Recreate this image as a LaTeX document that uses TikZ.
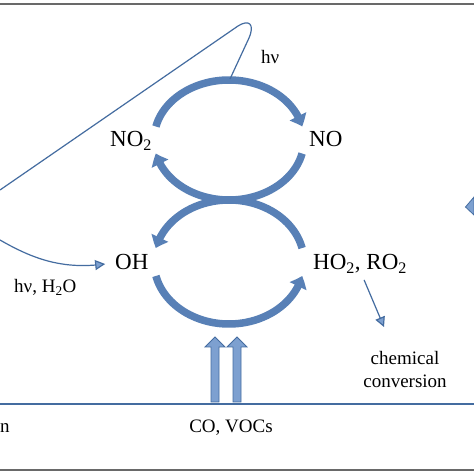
\documentclass[tikz,border=0pt]{standalone}
\usepackage{fontspec}
\setmainfont{Liberation Serif}
\usetikzlibrary{arrows.meta,bending}
\definecolor{cycblue}{RGB}{88,128,182}
\definecolor{lineblue}{RGB}{68,108,160}
\definecolor{fillblue}{RGB}{125,160,208}
\definecolor{framegrey}{RGB}{105,105,105}
\begin{document}
\begin{tikzpicture}[x=1pt,y=1pt,
    species/.style={inner sep=0pt, font=\fontsize{23}{27}\selectfont},
    note/.style={inner sep=0pt, align=center, font=\fontsize{19}{22.5}\selectfont},
    cyc/.style={line width=7.5pt, draw=cycblue, -{Triangle[width=18pt,length=11pt,bend]}},
    thinline/.style={line width=1.2pt, draw=lineblue},
    thinarrow/.style={thinline, -{Triangle[width=10pt,length=10pt,fill=fillblue]}},
    blockarrow/.style={draw=lineblue, fill=fillblue, line width=0.8pt}]
            \useasboundingbox[fill=white] (0,0) rectangle (474,474);

            % Frame and ground
            \draw[framegrey, line width=1.5pt] (0,470) -- (474,470);
            \draw[framegrey, line width=1.5pt] (0,4) -- (474,4);
            \draw[lineblue, line width=1.5pt] (0,70) -- (474,70);

            % Species
            \node[species, anchor=base west] (no2) at (110,327) {NO\textsubscript{2}};
            \node[species, anchor=base west] (no) at (309,327) {NO};
            \node[species, anchor=base west] (oh) at (115,204) {OH};
            \node[species, anchor=base west] (ho2) at (313,204) {HO\textsubscript{2}, RO\textsubscript{2}};

            % Notes
            \node[note, anchor=base west] (hv) at (261,410) {hν};
            \node[note, anchor=base west] (hvw) at (14,181) {hν, H\textsubscript{2}O};
            \node[note] (conv) at (405,104.5) {chemical\\conversion};
            \node[note, anchor=base] (voc) at (231,41) {CO, VOCs};
            \node[note, anchor=base west] (emis) at (0,41) {n};

            % Cycle centres and free ends
            \coordinate (up) at (229,334);
            \coordinate (lo) at (229,212);
            \coordinate (hvfoot) at (230,395);
            \coordinate (hvend) at (0,284);
            \coordinate (wstart) at (0,234);
            \coordinate (convtip) at (384,147);

            % Cycle arrows
            \draw[cyc] ([shift={(167:75 and 60)}]up) arc[start angle=167, end angle=13, x radius=75, y radius=60];
            \draw[cyc] ([shift={(-13:75 and 60)}]up) arc[start angle=-13, end angle=-167, x radius=75, y radius=60];
            \draw[cyc] ([shift={(13:75 and 62)}]lo) arc[start angle=13, end angle=167, x radius=75, y radius=62];
            \draw[cyc] ([shift={(193:75 and 62)}]lo) arc[start angle=193, end angle=347, x radius=75, y radius=62];

            % Thin connectors
            \draw[thinline] (hvfoot) -- (249,436) .. controls (255,450) and (249,455) .. (238,448) -- (hvend);
            \draw[thinarrow, shorten >=10pt] (wstart) to[out=-30, in=190] (oh.west);
            \draw[thinarrow] ([xshift=4pt, yshift=-6pt]ho2.south) -- (convtip);

            % Emission arrows
            \filldraw[blockarrow] (211,72) -- (211,127) -- (205,127) -- (215,137) -- (225,127) -- (219,127) -- (219,72) -- cycle;
            \filldraw[blockarrow] (233,72) -- (233,127) -- (227,127) -- (237,137) -- (247,127) -- (241,127) -- (241,72) -- cycle;
            \filldraw[blockarrow] (465.5,267) -- (474,277) -- (474,259) -- cycle;
\end{tikzpicture}
\end{document}
